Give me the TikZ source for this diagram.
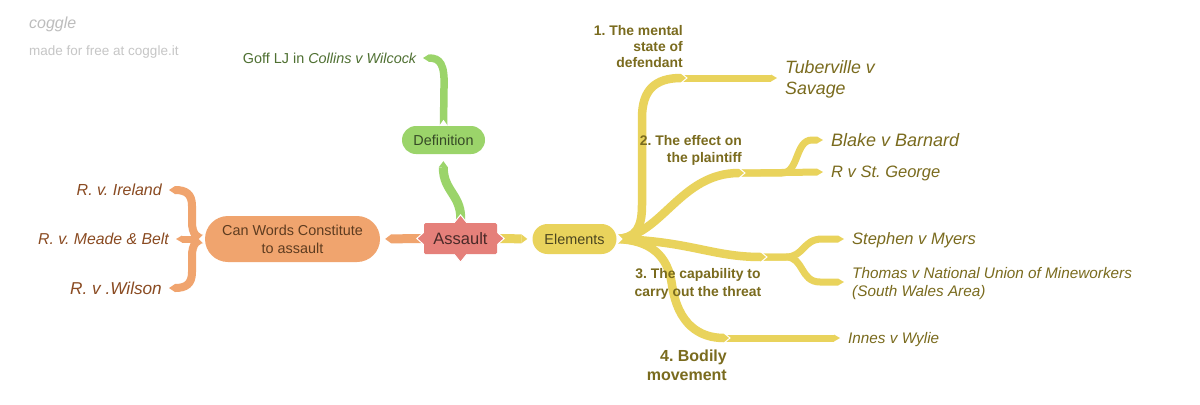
\documentclass[tikz,border=0pt]{standalone}
\usepackage{fontspec}
\setmainfont{Liberation Sans}
\usetikzlibrary{arrows.meta,shapes.misc}
\definecolor{ycol}{HTML}{E9D35C}
\definecolor{ocol}{HTML}{F0A46E}
\definecolor{gcol}{HTML}{9BD46A}
\definecolor{rcol}{HTML}{E5807A}
\definecolor{ytxt}{HTML}{7A6B1E}
\definecolor{ydark}{HTML}{4B4520}
\definecolor{otxt}{HTML}{8A4B22}
\definecolor{odark}{HTML}{5E3C20}
\definecolor{gtxt}{HTML}{4F7032}
\definecolor{gdark}{HTML}{364A26}
\definecolor{rdark}{HTML}{4A2A28}
\definecolor{logocol}{HTML}{BDBDBD}
\definecolor{madefree}{HTML}{C6C6C6}
\newcommand\fsz[2]{\fontsize{#1bp}{#2bp}\selectfont}
\frenchspacing
\pgfdeclarelayer{bg}
\pgfdeclarelayer{mid}
\pgfsetlayers{bg,mid,main}
\begin{document}
\begin{tikzpicture}[x=1bp,y=-1bp,
  pill/.style={rounded rectangle, inner sep=0pt, text depth=0pt},
  rleaf/.style={anchor=west, inner xsep=8bp, inner ysep=0pt, text depth=0pt, text=ytxt, align=left},
  lleaf/.style={anchor=east, inner xsep=7bp, inner ysep=0pt, text depth=0pt, text=otxt},
  blabel/.style={inner sep=0pt, text depth=0pt, text=ytxt},
  ybr/.style={draw=ycol, line cap=butt},
  obr/.style={draw=ocol, line cap=butt},
  gbr/.style={draw=gcol, line cap=butt},
  tip/.style={-{Triangle[length=6bp,width=#1,line width=0pt]}},
  notchline/.style={draw=white, line width=1bp, line join=miter},
  startip/.style={fill=rcol, draw=white, line width=1bp, line join=miter}
]
\begin{pgfonlayer}{bg}
\useasboundingbox (0,0) rectangle (1200,404);
\fill[white] (0,0) rectangle (1200,404);
\end{pgfonlayer}

% logo
\node[anchor=west, inner sep=0pt, text=logocol, font={\fsz{16}{16}\itshape}] (logo) at (29,24) {coggle};
\node[anchor=west, inner sep=0pt, text=madefree, font={\fsz{13.5}{15}}] (made) at (29,52) {made for free at coggle.it};

% main nodes
\node[pill, fill=ocol, text=odark, minimum width=175bp, minimum height=46bp, align=center, font={\fsz{14.4}{17.6}}] (cw) at (292.5,239) {Can Words Constitute\\to assault};
\node[pill, fill=gcol, text=gdark, minimum width=83bp, minimum height=28bp, font={\fsz{14.4}{17}}] (def) at (443.5,140) {Definition};
\node[pill, fill=ycol, text=ydark, minimum width=84bp, minimum height=30bp, font={\fsz{14.4}{17}}] (el) at (574.5,239) {Elements};
\node[rectangle, rounded corners=1.5bp, fill=rcol, text=rdark, minimum width=73bp, minimum height=31bp, inner sep=0pt, text depth=0pt, font={\fsz{16.5}{19}}] (as) at (460.5,238.5) {Assault};

% left leaves
\node[lleaf, font={\fsz{16}{19}\itshape}] (ire) at (169,190) {R. v. Ireland};
\node[lleaf, font={\fsz{15.8}{19}\itshape}] (mea) at (176,239) {R. v. Meade \& Belt};
\node[lleaf, font={\fsz{17.2}{20}\itshape}] (wil) at (169,288) {R. v .Wilson};

% green leaf
\node[anchor=east, inner xsep=6bp, inner ysep=0pt, text depth=0pt, text=gtxt, font={\fsz{14.4}{17}}] (goff) at (423,58) {Goff LJ in \textit{Collins v Wilcock}};

% yellow leaves
\node[rleaf, font={\fsz{17.8}{21}\itshape}] (tub) at (777,78) {Tuberville v\\Savage};
\node[rleaf, font={\fsz{18}{21}\itshape}] (bla) at (823,140) {Blake v Barnard};
\node[rleaf, font={\fsz{16.5}{19}\itshape}] (rst) at (823,172) {R v St. George};
\node[rleaf, font={\fsz{16.5}{19}\itshape}] (ste) at (844,239) {Stephen v Myers};
\node[rleaf, font={\fsz{15.3}{18}\itshape}] (tho) at (844,282) {Thomas v National Union of Mineworkers\\(South Wales Area)};
\node[rleaf, font={\fsz{15.3}{18}\itshape}] (inn) at (840,338) {Innes v Wylie};

% branch labels
\node[blabel, anchor=east, align=right, font={\fsz{13.9}{16}\bfseries}] (l1) at (683,46) {1. The mental\\state of\\defendant};
\node[blabel, anchor=east, align=right, font={\fsz{13.9}{17}\bfseries}] (l2) at (742,149) {2. The effect on\\the plaintiff};
\node[blabel, align=center, font={\fsz{13.9}{18}\bfseries}] (l3) at (698,282) {3. The capability to\\carry out the threat};
\node[blabel, anchor=east, align=right, font={\fsz{16}{19}\bfseries}] (l4) at (727,365) {4. Bodily\\movement};

% junction coordinates
\coordinate (j1) at (687,78);
\coordinate (j2) at (745,173);
\coordinate (j3) at (767,257);
\coordinate (j4) at (730,338);

\begin{pgfonlayer}{bg}
% orange connectors
\draw[obr, line width=9bp, tip=9bp, shorten >=5bp] (as.west) -- (cw.east);
\draw[obr, line width=8bp, tip=8bp] (cw.west) .. controls (197,239) and (192,234) .. (192,222) -- (192,206) .. controls (192,194) and (186,190) .. (ire.east);
\draw[obr, line width=8bp, tip=8bp] (cw.west) .. controls (197,239) and (192,244) .. (192,256) -- (192,272) .. controls (192,284) and (186,288) .. (wil.east);
\draw[obr, line width=7bp, tip=7bp] (cw.west) -- (mea.east);

% green connectors
\draw[gbr, line width=9bp, tip=9bp, shorten >=7bp] (as.north) .. controls (463,195) and (443,192) .. (def.south);
\draw[gbr, line width=7.5bp, tip=7.5bp] (def.north) -- (444,88) .. controls (445,64) and (440,58) .. (goff.east);

% yellow connectors
\draw[ybr, line width=9bp, tip=9bp, shorten >=5bp] (as.east) -- (el.west);
\draw[ybr, line width=7bp, tip=7bp] ([xshift=-6bp]j1) -- (tub.west);
\draw[ybr, line width=7bp, tip=7bp] ([xshift=-6bp]j2) -- (782,173) .. controls (799,173) and (795,140) .. (812,140) -- (bla.west);
\draw[ybr, line width=7bp, tip=7bp] ([xshift=-6bp]j2) -- (rst.west);
\draw[ybr, line width=7bp, tip=7bp] ([xshift=-6bp]j3) -- (786,257) .. controls (804,257) and (803,239) .. (822,239) -- (ste.west);
\draw[ybr, line width=7bp, tip=7bp] ([xshift=-6bp]j3) -- (786,257) .. controls (804,257) and (800,282) .. (820,282) -- (tho.west);
\draw[ybr, line width=7bp, tip=7bp] ([xshift=-6bp]j4) -- (inn.west);
\draw[ybr, line width=8.5bp, tip=8.5bp] (el.east) .. controls (636,238) and (642,228) .. (642,205) -- (642,118) .. controls (642,90) and (655,78) .. (j1);
\draw[ybr, line width=8.5bp, tip=8.5bp] (el.east) .. controls (662,236) and (680,173) .. (j2);
\draw[ybr, line width=8.5bp, tip=8.5bp] (el.east) .. controls (690,241) and (712,257) .. (j3);
\draw[ybr, line width=8.5bp, tip=8.5bp] (el.east) .. controls (650,240) and (668,255) .. (672,285) .. controls (678,325) and (700,338) .. (j4);
\end{pgfonlayer}

\begin{pgfonlayer}{mid}
% notches
\fill[white] ([shift={(1,-7)}]cw.west) -- ([shift={(-6,0)}]cw.west) -- ([shift={(1,7)}]cw.west) -- cycle;
\fill[white] ([shift={(-5,1)}]def.north) -- ([shift={(0,-6)}]def.north) -- ([shift={(5,1)}]def.north) -- cycle;
\fill[white] ([shift={(-1,-7)}]el.east) -- ([shift={(6,0)}]el.east) -- ([shift={(-1,7)}]el.east) -- cycle;
\foreach \j in {j1,j2,j3,j4}
  \draw[notchline] ([shift={(-6,-5)}]\j) -- (\j) -- ([shift={(-6,5)}]\j);
% star tips of Assault (under the node)
\filldraw[startip] ([shift={(-8,2)}]as.north) -- ([shift={(0,-8)}]as.north) -- ([shift={(8,2)}]as.north) -- cycle;
\filldraw[startip] ([shift={(-8,-2)}]as.south) -- ([shift={(0,8)}]as.south) -- ([shift={(8,-2)}]as.south) -- cycle;
\filldraw[startip] ([shift={(2,-8)}]as.west) -- ([shift={(-7,0)}]as.west) -- ([shift={(2,8)}]as.west) -- cycle;
\filldraw[startip] ([shift={(-2,-8)}]as.east) -- ([shift={(7,0)}]as.east) -- ([shift={(-2,8)}]as.east) -- cycle;
\end{pgfonlayer}
\end{tikzpicture}
\end{document}
